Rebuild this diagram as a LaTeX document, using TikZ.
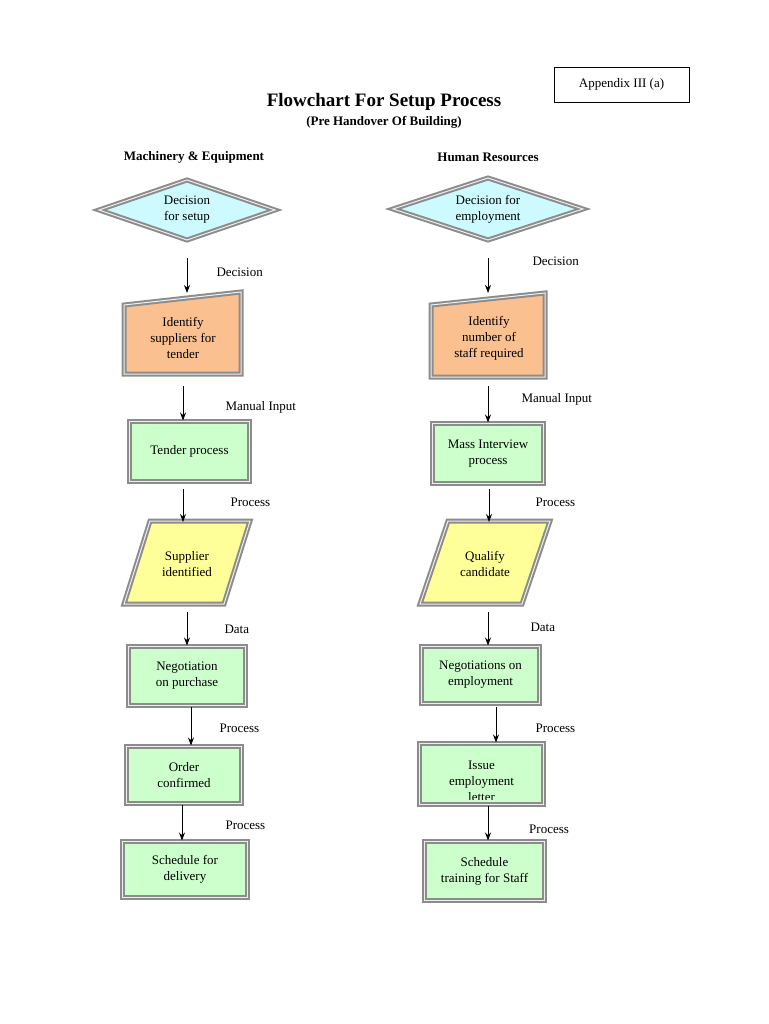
\documentclass[tikz,border=0pt]{standalone}
\usepackage{fontspec}
\setmainfont{Liberation Serif}
\usetikzlibrary{shapes.geometric,arrows.meta}
\definecolor{cy}{RGB}{204,250,255}
\definecolor{org}{RGB}{250,192,143}
\definecolor{grn}{RGB}{204,255,204}
\definecolor{yel}{RGB}{255,255,153}
\definecolor{frm}{RGB}{140,140,140}
\begin{document}
\begin{tikzpicture}[x=1pt,y=-1pt,
  fr/.style={draw=frm,line width=2pt,double=white!85!frm,double distance=1pt},
  box/.style={fr,fill=grn,rectangle},
  txt/.style={align=center,font=\fontsize{13}{16}\selectfont},
  lab/.style={font=\fontsize{13}{16}\selectfont,anchor=west},
  arr/.style={-{Stealth[length=8pt,width=6pt]},line width=0.8pt}]
\useasboundingbox (0,0) rectangle (768,1024);
\fill[white] (0,0) rectangle (768,1024);
% title
\node[draw,line width=0.6pt,minimum width=135,minimum height=35,font=\fontsize{13}{16}\selectfont] (app) at (621.5,84.5) {Appendix III (a)};
\node[font=\bfseries\fontsize{19}{22}\selectfont] (t) at (384,102) {Flowchart For Setup Process};
\node[font=\bfseries\fontsize{13}{16}\selectfont] (st) at (384,122) {(Pre Handover Of Building)};
\node[font=\bfseries\fontsize{13}{16}\selectfont] (h1) at (194,157) {Machinery \& Equipment};
\node[font=\bfseries\fontsize{13}{16}\selectfont] (h2) at (488,157) {Human Resources};
% left column
\draw[fr,fill=cy] (99,210) -- (187,180) -- (275,210) -- (187,240) -- cycle;
\node[txt] (d1) at (187,210) {Decision\\for setup};
\coordinate (d1b) at (187,258);
\draw[fr,fill=org] (124,305) -- (241,292) -- (241,374) -- (124,374) -- cycle;
\node[txt] (m1) at (183,338) {Identify\\suppliers for\\tender};
\node[box,minimum width=120,minimum height=60] (b1) at (189.5,451.5) {};
\node[txt] at (b1) {Tender process};
\draw[fr,fill=yel] (150,521) -- (250,521) -- (224,604) -- (124,604) -- cycle;
\node[txt] (p1) at (187,564) {Supplier\\identified};
\node[box,minimum width=117,minimum height=59] (n1) at (187,676) {};
\node[txt] at (n1) {Negotiation\\on purchase};
\node[box,minimum width=115,minimum height=57] (o1) at (184,775) {};
\node[txt] at (o1) {Order\\confirmed};
\node[box,minimum width=125,minimum height=56] (s1) at (185,869.5) {};
\node[txt] at (s1) {Schedule for\\delivery};
\draw[arr] (187,258) -- (187,293);
\draw[arr] (183,386) -- (b1.north -| 183,0);
\draw[arr] (183,489) -- (183,522);
\draw[arr] (187,612) -- (n1.north -| 187,0);
\draw[arr] (191,707) -- (o1.north -| 191,0);
\draw[arr] (182,805) -- (s1.north -| 182,0);
\node[lab] at (213,272) {Decision};
\node[lab] at (222,407) {Manual Input};
\node[lab] at (227,502) {Process};
\node[lab] at (221,629) {Data};
\node[lab] at (216,728) {Process};
\node[lab] at (222,825) {Process};
% right column
\draw[fr,fill=cy] (393,209) -- (488,178) -- (583,209) -- (488,240) -- cycle;
\node[txt] (d2) at (488,209) {Decision for\\employment};
\draw[fr,fill=org] (431,305) -- (545,293) -- (545,377) -- (431,377) -- cycle;
\node[txt] (m2) at (489,338) {Identify\\number of\\staff required};
\node[box,minimum width=111,minimum height=60] (b2) at (488,453.5) {};
\node[txt] at (b2) {Mass Interview\\process};
\draw[fr,fill=yel] (448,521) -- (550,521) -- (522,604) -- (420,604) -- cycle;
\node[txt] (p2) at (485,564) {Qualify\\candidate};
\node[box,minimum width=118,minimum height=57] (n2) at (480.5,675) {};
\node[txt] at (n2) {Negotiations on\\employment};
\node[box,minimum width=124,minimum height=61] (i2) at (481.5,774) {};
\begin{scope}
\clip (421,745) rectangle (542,799);
\node[txt] at (481.5,781) {Issue\\employment\\letter};
\end{scope}
\node[box,minimum width=120,minimum height=59] (s2) at (484.5,871) {};
\node[txt] at (s2) {Schedule\\training for Staff};
\draw[arr] (488,258) -- (488,293);
\draw[arr] (488,386) -- (b2.north -| 488,0);
\draw[arr] (489,489) -- (489,522);
\draw[arr] (488,612) -- (n2.north -| 488,0);
\draw[arr] (496,707) -- (i2.north -| 496,0);
\draw[arr] (i2.south -| 488,0) -- (s2.north -| 488,0);
\node[lab] at (529,261) {Decision};
\node[lab] at (518,399) {Manual Input};
\node[lab] at (532,502) {Process};
\node[lab] at (527,627) {Data};
\node[lab] at (532,728) {Process};
\node[fill=white,inner sep=1pt,lab] at (528,829) {Process};
\end{tikzpicture}
\end{document}
